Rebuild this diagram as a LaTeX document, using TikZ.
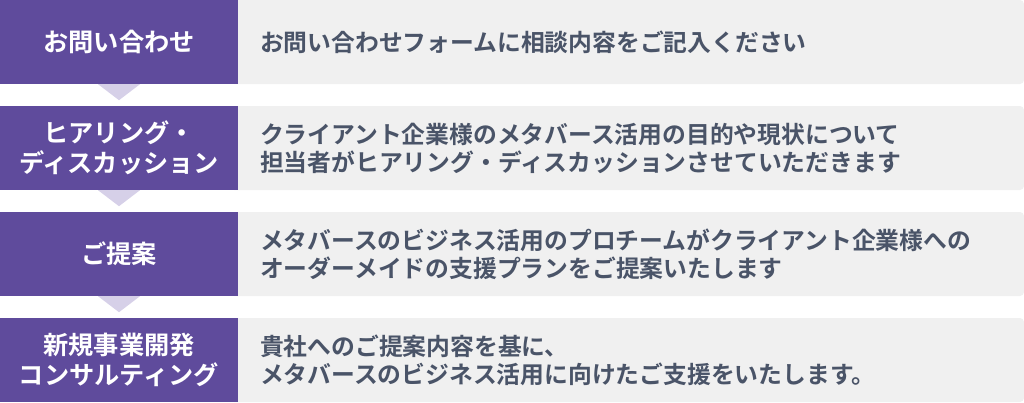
\documentclass[tikz,border=0pt]{standalone}
\usepackage{fontspec}
\setmainfont{Noto Sans CJK JP}[BoldFont={Noto Sans CJK JP Bold}]
\definecolor{stepviolet}{HTML}{5F4B9C}
\definecolor{arrowlilac}{HTML}{D6D0E8}
\definecolor{panelgray}{HTML}{F0F0F0}
\definecolor{textslate}{HTML}{4A5468}

\begin{document}
\begin{tikzpicture}[x=1pt,y=-1pt,
  stepbox/.style={rectangle, fill=stepviolet, text=white, minimum width=238pt, minimum height=84pt, inner sep=0pt, align=center, font=\bfseries\fontsize{25.2}{30}\selectfont},
  panel/.style={rectangle, rounded corners=4pt, fill=panelgray, text=textslate, minimum width=794pt, minimum height=84pt, inner xsep=30pt, inner ysep=0pt, text width=734pt, align=left, font=\bfseries\fontsize{23.8}{28}\selectfont},
  tri/.style={fill=arrowlilac}]
\useasboundingbox (0,0) rectangle (1024,402);

\node [panel] (d1) at (627,42) {お問い合わせフォームに相談内容をご記入ください};
\node [panel] (d2) at (627,148) {クライアント企業様のメタバース活用の目的や現状について\\担当者がヒアリング・ディスカッションさせていただきます};
\node [panel] (d3) at (627,254) {メタバースのビジネス活用のプロチームがクライアント企業様への\\オーダーメイドの支援プランをご提案いたします};
\node [panel] (d4) at (627,360) {貴社へのご提案内容を基に、\\メタバースのビジネス活用に向けたご支援をいたします。};

\node [stepbox] (s1) at (119,42) {お問い合わせ};
\node [stepbox] (s2) at (119,148) {ヒアリング・\\ディスカッション};
\node [stepbox] (s3) at (119,254) {ご提案};
\node [stepbox] (s4) at (119,360) {新規事業開発\\コンサルティング};

\fill [tri] ([xshift=-21pt]s1.south) -- ([xshift=21pt]s1.south) -- ([yshift=-16pt]s1.south) -- cycle;
\fill [tri] ([xshift=-21pt]s2.south) -- ([xshift=21pt]s2.south) -- ([yshift=-16pt]s2.south) -- cycle;
\fill [tri] ([xshift=-21pt]s3.south) -- ([xshift=21pt]s3.south) -- ([yshift=-16pt]s3.south) -- cycle;
\end{tikzpicture}
\end{document}
